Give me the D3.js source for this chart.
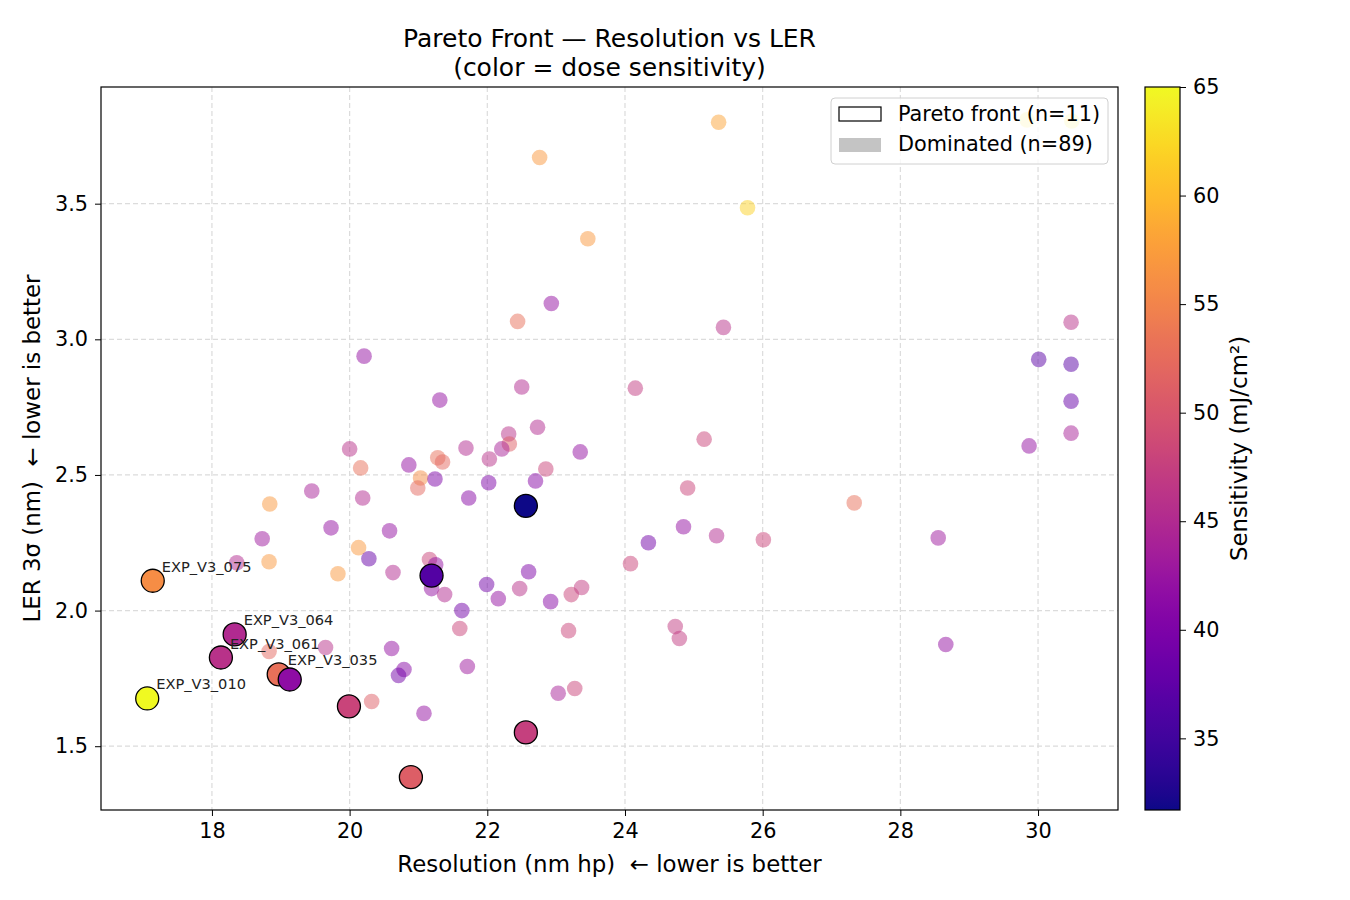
<!DOCTYPE html>
<html>
<head>
<meta charset="utf-8">
<script src="https://cdn.jsdelivr.net/npm/d3@7"></script>
<style>
  body { margin: 0; background: #fff; }
  text { font-family: "DejaVu Sans", sans-serif; }
</style>
</head>
<body>
<div id="viz"></div>
<script>
// dominated experiments (resolution nm hp, LER 3 sigma nm, sensitivity mJ/cm2)
const domRes = [25.36, 22.76, 25.78, 23.46, 29.84, 30.49, 22.93, 22.44, 25.43, 20.21,
  21.31, 22.50, 24.15, 22.73, 22.31, 22.32, 22.21, 21.69, 20.00, 22.03,
  23.35, 22.85, 21.28, 21.35, 20.16, 20.86, 21.03, 20.99, 21.24, 22.02,
  22.70, 21.73, 19.45, 18.84, 20.19, 19.73, 20.58, 18.73, 20.13, 20.28,
  18.36, 18.83, 19.83, 20.63, 21.16, 21.25, 21.19, 21.38, 21.99, 22.16,
  22.60, 22.47, 22.92, 23.22, 23.37, 21.63, 21.60, 23.18, 20.61, 18.83,
  19.65, 20.79, 20.71, 21.71, 20.32, 21.08, 23.03, 23.27, 25.15, 24.91,
  27.33, 24.85, 25.33, 26.01, 24.34, 24.08, 24.73, 24.79, 30.48, 30.01,
  30.48, 30.48, 30.48, 29.87, 28.55, 28.66];
const domLer = [3.800, 3.670, 3.485, 3.371, 3.809, 3.805, 3.132, 3.066, 3.044, 2.938,
  2.776, 2.824, 2.820, 2.676, 2.651, 2.614, 2.596, 2.599, 2.596, 2.559,
  2.585, 2.522, 2.563, 2.548, 2.526, 2.537, 2.489, 2.452, 2.485, 2.471,
  2.478, 2.415, 2.441, 2.393, 2.415, 2.305, 2.294, 2.265, 2.232, 2.191,
  2.176, 2.180, 2.136, 2.140, 2.188, 2.169, 2.081, 2.059, 2.096, 2.044,
  2.143, 2.081, 2.033, 2.059, 2.085, 2.000, 1.934, 1.926, 1.860, 1.849,
  1.864, 1.783, 1.761, 1.794, 1.665, 1.621, 1.695, 1.713, 2.632, 2.452,
  2.397, 2.309, 2.276, 2.261, 2.250, 2.173, 1.941, 1.897, 3.063, 2.926,
  2.908, 2.772, 2.654, 2.607, 2.268, 1.875];
const domSens = [58, 57, 62, 57, 63, 64, 42, 53, 46, 42,
  42, 45, 47, 45, 46, 51, 44, 45, 46, 46,
  42, 48, 53, 52, 53, 42, 56, 52, 40, 40,
  41, 41, 44, 57, 45, 42, 42, 43, 57, 38,
  45, 57, 57, 45, 48, 42, 42, 45, 39, 42,
  40, 46, 41, 48, 47, 39, 48, 48, 42, 52,
  46, 41, 39, 43, 51, 42, 44, 48, 48, 48,
  53, 42, 45, 48, 39, 48, 47, 47, 46, 37,
  37, 38, 44, 42, 43, 42];

// pareto front experiments
const parRes = [17.14, 18.33, 18.13, 18.97, 17.06, 19.13, 19.99, 20.89, 22.56, 21.19, 22.56];
const parLer = [2.110, 1.912, 1.827, 1.765, 1.676, 1.746, 1.647, 1.386, 1.551, 2.129, 2.386];
const parSens = [56, 45, 46, 53, 65, 41.5, 48, 51, 47.5, 36.5, 31.7];
const parLabels = ['EXP_V3_075', 'EXP_V3_064', 'EXP_V3_061', 'EXP_V3_035', 'EXP_V3_010', '', '', '', '', '', ''];

const xTicks = [18, 20, 22, 24, 26, 28, 30];
const yTicks = [1.5, 2.0, 2.5, 3.0, 3.5];
const cbTicks = [35, 40, 45, 50, 55, 60, 65];
const legendLabels = ['Pareto front (n=11)', 'Dominated (n=89)'];

const w = 1350;
const h = 900;
const mLeft = 101, mRight = 1118, mTop = 87, mBottom = 810;
const tickFont = 20.8;

const svg = d3.select('#viz').
append('svg').
attr('width', w).
attr('height', h);

// matplotlib style 5% margins
const allRes = domRes.concat(parRes);
const allLer = domLer.concat(parLer);
const xr = d3.extent(allRes);
const yr = d3.extent(allLer);
const xPad = (xr[1] - xr[0]) * 0.05;
const yPad = (yr[1] - yr[0]) * 0.05;

const xScale = d3.scaleLinear().
domain([xr[0] - xPad, xr[1] + xPad]).
range([mLeft, mRight]);

const yScale = d3.scaleLinear().
domain([yr[0] - yPad, yr[1] + yPad]).
range([mBottom, mTop]);

const allSens = domSens.concat(parSens);
const color = d3.scaleSequential(d3.interpolatePlasma).
domain(d3.extent(allSens));

// grid
svg.append('g').
selectAll('line').
data(xTicks).
enter().
append('line').
attr('x1', d => xScale(d)).
attr('x2', d => xScale(d)).
attr('y1', mTop).
attr('y2', mBottom).
attr('stroke', '#dcdcdc').
attr('stroke-width', 1.2).
attr('stroke-dasharray', '5,3');

svg.append('g').
selectAll('line').
data(yTicks).
enter().
append('line').
attr('x1', mLeft).
attr('x2', mRight).
attr('y1', d => yScale(d)).
attr('y2', d => yScale(d)).
attr('stroke', '#dcdcdc').
attr('stroke-width', 1.2).
attr('stroke-dasharray', '5,3');

// dominated points
const dom = domRes.map((r, i) => ({ r: r, l: domLer[i], s: domSens[i] }));
svg.append('g').
selectAll('circle').
data(dom).
enter().
append('circle').
attr('cx', d => xScale(d.r)).
attr('cy', d => yScale(d.l)).
attr('r', 7.8).
attr('fill', d => color(d.s)).
attr('fill-opacity', 0.5);

// pareto points
const par = parRes.map((r, i) => ({ r: r, l: parLer[i], s: parSens[i], name: parLabels[i] }));
svg.append('g').
selectAll('circle').
data(par).
enter().
append('circle').
attr('cx', d => xScale(d.r)).
attr('cy', d => yScale(d.l)).
attr('r', 11.5).
attr('fill', d => color(d.s)).
attr('stroke', '#000').
attr('stroke-width', 1.3);

svg.append('g').
selectAll('text').
data(par.filter(d => d.name !== '')).
enter().
append('text').
attr('x', d => xScale(d.r) + 9).
attr('y', d => yScale(d.l) - 9).
attr('font-size', 14.6).
attr('fill', '#222').
text(d => d.name);

// axes
const xAxis = d3.axisBottom(xScale).tickValues(xTicks).tickSize(6).tickPadding(7);
const gx = svg.append('g').
attr('transform', 'translate(0,' + mBottom + ')').
call(xAxis);
gx.select('.domain').remove();
gx.selectAll('text').attr('font-size', tickFont).attr('fill', '#000').style('font-family', 'DejaVu Sans');

const yAxis = d3.axisLeft(yScale).tickValues(yTicks).tickSize(6).tickPadding(7).tickFormat(d3.format('.1f'));
const gy = svg.append('g').
attr('transform', 'translate(' + mLeft + ',0)').
call(yAxis);
gy.select('.domain').remove();
gy.selectAll('text').attr('font-size', tickFont).attr('fill', '#000').style('font-family', 'DejaVu Sans');

svg.append('rect').
attr('x', mLeft).
attr('y', mTop).
attr('width', mRight - mLeft).
attr('height', mBottom - mTop).
attr('fill', 'none').
attr('stroke', '#000').
attr('stroke-width', 1.2);

// titles and labels
svg.append('text').
attr('x', (mLeft + mRight) / 2).
attr('y', 47).
attr('text-anchor', 'middle').
attr('font-size', 25).
text('Pareto Front — Resolution vs LER');

svg.append('text').
attr('x', (mLeft + mRight) / 2).
attr('y', 76).
attr('text-anchor', 'middle').
attr('font-size', 25).
text('(color = dose sensitivity)');

svg.append('text').
attr('x', (mLeft + mRight) / 2).
attr('y', 872).
attr('text-anchor', 'middle').
attr('font-size', 22.9).
style('white-space', 'pre').
text('Resolution (nm hp)  ← lower is better');

svg.append('text').
attr('transform', 'translate(40,' + (mTop + mBottom) / 2 + ') rotate(-90)').
attr('text-anchor', 'middle').
attr('font-size', 22.9).
style('white-space', 'pre').
text('LER 3σ (nm)  ← lower is better');

// legend
const lg = svg.append('g');
lg.append('rect').
attr('x', 831).
attr('y', 98).
attr('width', 277).
attr('height', 66).
attr('rx', 4).
attr('fill', '#fff').
attr('fill-opacity', 0.8).
attr('stroke', '#d0d0d0');

lg.append('rect').
attr('x', 839).
attr('y', 107).
attr('width', 42).
attr('height', 14).
attr('fill', '#fff').
attr('stroke', '#000').
attr('stroke-width', 1.2);

lg.append('rect').
attr('x', 839).
attr('y', 138).
attr('width', 42).
attr('height', 14).
attr('fill', '#c4c4c4');

lg.selectAll('text.lab').
data(legendLabels).
enter().
append('text').
attr('class', 'lab').
attr('x', 898).
attr('y', (d, i) => 121 + i * 30).
attr('font-size', tickFont).
text(d => d);

// colorbar
const cbX = 1145, cbW = 35;
const cbScale = d3.scaleLinear().domain(color.domain()).range([mBottom, mTop]);

const defs = svg.append('defs');
const grad = defs.append('linearGradient').
attr('id', 'cbgrad').
attr('x1', 0).attr('y1', 1).attr('x2', 0).attr('y2', 0);
grad.selectAll('stop').
data(d3.range(0, 1.0001, 0.02)).
enter().
append('stop').
attr('offset', d => d).
attr('stop-color', d => d3.interpolatePlasma(d));

svg.append('rect').
attr('x', cbX).
attr('y', mTop).
attr('width', cbW).
attr('height', mBottom - mTop).
attr('fill', 'url(#cbgrad)').
attr('stroke', '#000').
attr('stroke-width', 1.2);

const cbAxis = d3.axisRight(cbScale).tickValues(cbTicks).tickSize(6).tickPadding(7);
const gc = svg.append('g').
attr('transform', 'translate(' + (cbX + cbW) + ',0)').
call(cbAxis);
gc.select('.domain').remove();
gc.selectAll('text').attr('font-size', tickFont).attr('fill', '#000').style('font-family', 'DejaVu Sans');

svg.append('text').
attr('transform', 'translate(1247,' + (mTop + mBottom) / 2 + ') rotate(-90)').
attr('text-anchor', 'middle').
attr('font-size', 22.9).
text('Sensitivity (mJ/cm²)');
</script>
</body>
</html>
